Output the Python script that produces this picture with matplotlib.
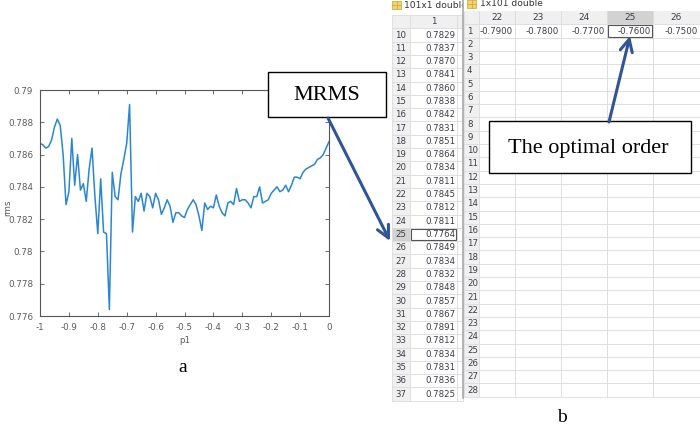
"""MRMS vs p1 curve (a) next to the variable-editor view of the result (b)."""
import numpy as np
import matplotlib
matplotlib.use("Agg")
import matplotlib.pyplot as plt
from matplotlib.patches import Rectangle
from matplotlib.ticker import FuncFormatter

# p1 runs -1:0.01:0 (the 1x101 vector shown in panel b)
p1 = np.round(np.arange(-1, 0.0001, 0.01), 2)
rms = [
    0.7867, 0.7866, 0.7864, 0.7865, 0.7869, 0.7877, 0.7882, 0.7878, 0.7860,
    0.7829, 0.7837, 0.7870, 0.7841, 0.7860, 0.7838, 0.7842, 0.7831, 0.7851,
    0.7864, 0.7834, 0.7811, 0.7845, 0.7812, 0.7811, 0.7764, 0.7849, 0.7834,
    0.7832, 0.7848, 0.7857, 0.7867, 0.7891, 0.7812, 0.7834, 0.7831, 0.7836,
    0.7825,
    0.7836, 0.7834, 0.7827, 0.7836, 0.7832, 0.7823, 0.7827, 0.7832, 0.7828,
    0.7818, 0.7824, 0.7824, 0.7822, 0.7821, 0.7826, 0.7829, 0.7832, 0.7829,
    0.7822, 0.7813, 0.7830, 0.7826, 0.7828, 0.7827, 0.7835, 0.7828, 0.7824,
    0.7822, 0.7830,
    0.7831, 0.7829, 0.7839, 0.7831, 0.7832, 0.7832, 0.7830, 0.7827, 0.7834,
    0.7834, 0.7840, 0.7830, 0.7831, 0.7832, 0.7836, 0.7838, 0.7840, 0.7837,
    0.7838, 0.7841, 0.7837, 0.7841, 0.7846, 0.7846, 0.7845, 0.7849, 0.7851,
    0.7852, 0.7853, 0.7854, 0.7857, 0.7858, 0.7860, 0.7864, 0.7868,
]
left_rows = list(range(10, 38))      # rows visible in the 101x1 editor
right_cols = [22, 23, 24, 25, 26]    # columns visible in the 1x101 editor
right_rows = list(range(1, 29))
best = 25                            # the optimal order

W, H = 700, 430
fig = plt.figure(figsize=(7, 4.3), dpi=100)

# ---- panel a: MATLAB-looking line plot
ax = fig.add_axes([40 / W, 1 - 316 / H, 289 / W, 226 / H])
ax.plot(p1, rms, color="#2a86d1", lw=1.1)
ax.set_xlim(-1, 0)
ax.set_ylim(0.776, 0.79)
ax.set_xticks(np.round(np.arange(-1, 0.001, 0.1), 1))
ax.set_yticks(np.round(np.arange(0.776, 0.7901, 0.002), 3))
fmt = FuncFormatter(lambda v, _: f"{v + 0.0:g}" if abs(v) > 1e-9 else "0")
ax.xaxis.set_major_formatter(fmt)
ax.yaxis.set_major_formatter(fmt)
ax.tick_params(direction="in", top=True, right=True, length=3, width=0.6,
               labelsize=6.3, labelcolor="#5a5a5a", color="#555555", pad=5)
for s in ax.spines.values():
    s.set_color("#555555")
    s.set_linewidth(0.8)
ax.set_xlabel("p1", fontsize=6.3, color="#5a5a5a", labelpad=3)
ax.set_ylabel("rms", fontsize=6.3, color="#5a5a5a")
ax.yaxis.set_label_coords(-0.097, 0.48)

# ---- overlay in pixel coordinates for panel b and the callouts
ov = fig.add_axes([0, 0, 1, 1], zorder=5)
ov.set_xlim(0, W)
ov.set_ylim(H, 0)
ov.axis("off")

grid = "#dcdcdc"
hdr = "#f0f0f0"
sel = "#d2d2d2"
tcol = "#3c3c48"
fs = 6.2
rh = 13.3


def cell(x0, y0, w, h, fc="white", ec=grid, lw=0.6, z=2):
    ov.add_patch(Rectangle((x0, y0), w, h, fc=fc, ec=ec, lw=lw, zorder=z))


def icon(x0, y0):
    cell(x0, y0, 9, 8, fc="#f3d36b", ec="#c9a43a", lw=0.5, z=3)
    ov.plot([x0 + 4.5, x0 + 4.5], [y0, y0 + 8], color="#c9a43a", lw=0.5, zorder=3.5)
    ov.plot([x0, x0 + 9], [y0 + 4, y0 + 4], color="#c9a43a", lw=0.5, zorder=3.5)


# left editor: 101x1 double
lx0, lx1, lx2, lx3 = 392, 410, 457, 463
icon(392, 1)
ov.text(404, 5, "101x1 double", fontsize=fs + 0.4, color="#333333",
        va="center", zorder=2.2)
top = 15
cell(lx0, top, lx1 - lx0, 28.35 - top, fc=hdr)
cell(lx1, top, lx2 - lx1, 28.35 - top, fc=hdr)
cell(lx2, top, lx3 - lx2, 28.35 - top, fc=hdr)
ov.text((lx1 + lx2) / 2, 22, "1", fontsize=fs, color=tcol,
        ha="center", va="center", zorder=3)
for k, r in enumerate(left_rows):
    yc = 35 + k * rh
    y0 = yc - rh / 2
    cell(lx0, y0, lx1 - lx0, rh, fc=sel if r == best else hdr)
    cell(lx1, y0, lx2 - lx1, rh)
    cell(lx2, y0, lx3 - lx2, rh)
    ov.text(lx0 + 3, yc, str(r), fontsize=fs, color=tcol, va="center", zorder=3)
    ov.text(lx2 - 2, yc, f"{rms[r - 1]:.4f}", fontsize=fs, color=tcol,
            ha="right", va="center", zorder=3)
    if r == best:
        cell(lx1 + 1, y0 + 1, lx2 - lx1 - 2, rh - 2, fc="none", ec="#555555",
             lw=0.8, z=3)

# right editor: 1x101 double
rx0, bounds = 464, [479, 515, 561, 607, 653, 700]
cell(rx0 - 1, 0, W - rx0 + 1, 11, fc="white", ec="none", z=2.5)
ov.plot([rx0 - 1, rx0 - 1], [0, 398], color="#a8a8a8", lw=1.2, zorder=4)
icon(467, 0)
ov.text(480, 4, "1x101 double", fontsize=fs + 0.4, color="#333333",
        va="center", zorder=3)
htop, hbot = 10, 24.35
cell(rx0, htop, bounds[0] - rx0, hbot - htop, fc=hdr)
for c, xa, xb in zip(right_cols, bounds[:-1], bounds[1:]):
    cell(xa, htop, xb - xa, hbot - htop, fc=sel if c == best else hdr)
    ov.text((xa + xb) / 2, 17.5, str(c), fontsize=fs + 0.3, color=tcol,
            ha="center", va="center", zorder=3)
for r in right_rows:
    yc = 31 + (r - 1) * rh
    y0 = yc - rh / 2
    cell(rx0, y0, bounds[0] - rx0, rh, fc=hdr)
    ov.text(rx0 + 3, yc, str(r), fontsize=fs, color=tcol, va="center", zorder=3)
    for c, xa, xb in zip(right_cols, bounds[:-1], bounds[1:]):
        cell(xa, y0, xb - xa, rh)
        if r == 1:
            ov.text(xb - 2, yc, f"{p1[c - 1]:.4f}", fontsize=fs, color=tcol,
                    ha="right", va="center", zorder=3)
            if c == best:
                cell(xa + 1, y0 + 1, xb - xa - 2, rh - 2, fc="none",
                     ec="#555555", lw=0.8, z=3)

# ---- callouts
arrow = dict(arrowstyle="->", color="#2f5597", lw=2.2, mutation_scale=22,
             shrinkA=0, shrinkB=0)
cell(268, 72, 118, 45, fc="white", ec="black", lw=1.0, z=6)
ov.text(327, 96, "MRMS", family="Liberation Serif", fontsize=16,
        ha="center", va="center", zorder=7)
ov.annotate("", xy=(390, 241), xytext=(328, 118), arrowprops=arrow, zorder=6)

cell(489, 121, 202, 52, fc="white", ec="black", lw=1.0, z=6)
ov.text(588, 148, "The optimal order", family="Liberation Serif", fontsize=16,
        ha="center", va="center", zorder=7)
ov.annotate("", xy=(630, 36), xytext=(609, 122), arrowprops=arrow, zorder=6)

ov.text(183, 368, "a", family="Liberation Serif", fontsize=14,
        ha="center", va="center")
ov.text(562, 418, "b", family="Liberation Serif", fontsize=14,
        ha="center", va="center")

fig.savefig("out.png", dpi=100)
